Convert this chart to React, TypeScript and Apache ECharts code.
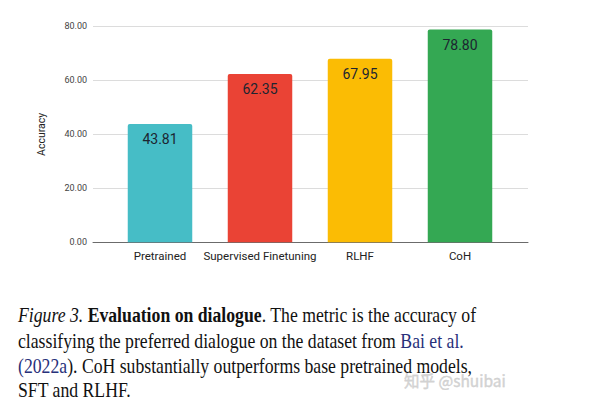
import React, { useEffect, useRef } from "react";
import * as echarts from "echarts";

const categories = ["Pretrained", "Supervised Finetuning", "RLHF", "CoH"];
const accuracy = [43.81, 62.35, 67.95, 78.8];
const barColors = ["#46bdc6", "#ea4335", "#fbbc04", "#34a853"];
const yTicks = [0, 20, 40, 60, 80];
const axisName = "Accuracy";

const captionLines = [
  "{i|Figure 3.} {b|Evaluation on dialogue}{r|. The metric is the accuracy of}",
  "{r|classifying the preferred dialogue on the dataset from }{l|Bai et al.}",
  "{l|(2022a}{r|). CoH substantially outperforms base pretrained models,}",
  "{r|SFT and RLHF.}",
];
const watermark = "知乎 @shuibai";

export default function App() {
  const ref = useRef<HTMLDivElement>(null);
  useEffect(() => {
    const chart = echarts.init(ref.current!, null, { renderer: "svg" });
    const font = "Roboto, 'Liberation Sans', Arial, sans-serif";
    const serif = "'Liberation Serif', 'Times New Roman', serif";
    const top = 26.3;
    const height = 216;
    const fs = 20;
    const rich = {
      i: { fontFamily: serif, fontStyle: "italic", fontSize: fs, fill: "#111" },
      b: { fontFamily: serif, fontWeight: "bold", fontSize: fs, fill: "#111" },
      r: { fontFamily: serif, fontSize: fs, fill: "#111" },
      l: { fontFamily: serif, fontSize: fs, fill: "#27307a" },
    };
    const lineY = [315, 341, 366, 390];
    chart.setOption({
      animation: false,
      grid: [
        { left: 93, width: 435, top, height, containLabel: false },
        { left: 110, width: 400, top, height, containLabel: false },
      ],
      xAxis: [
        {
          gridIndex: 0,
          type: "value",
          min: 0,
          max: 1,
          axisLine: { show: true, lineStyle: { color: "#6b6b6b", width: 1 } },
          axisTick: { show: false },
          axisLabel: { show: false },
          splitLine: { show: false },
        },
        {
          gridIndex: 1,
          type: "category",
          data: categories,
          axisLine: { show: false },
          axisTick: { show: false },
          axisLabel: {
            show: true,
            interval: 0,
            fontFamily: font,
            fontSize: 11.5,
            color: "#222",
            margin: 8,
          },
        },
      ],
      yAxis: [
        {
          gridIndex: 0,
          type: "value",
          min: yTicks[0],
          max: yTicks[yTicks.length - 1],
          interval: yTicks[1] - yTicks[0],
          name: axisName,
          nameLocation: "middle",
          nameRotate: 90,
          nameGap: 46,
          nameTextStyle: { fontFamily: font, fontSize: 10.5, color: "#222" },
          axisLine: { show: false },
          axisTick: { show: false },
          axisLabel: {
            fontFamily: font,
            fontSize: 9,
            color: "#444",
            margin: 6,
            formatter: (v: number) => v.toFixed(2),
          },
          splitLine: { show: true, lineStyle: { color: "#dcdcdc", width: 1 } },
        },
        {
          gridIndex: 1,
          type: "value",
          min: yTicks[0],
          max: yTicks[yTicks.length - 1],
          show: false,
          splitLine: { show: false },
        },
      ],
      series: [
        {
          type: "bar",
          xAxisIndex: 1,
          yAxisIndex: 1,
          barWidth: 64.5,
          data: accuracy.map((v, i) => ({
            value: v,
            itemStyle: { color: barColors[i], borderRadius: [2, 2, 0, 0] },
          })),
          label: {
            show: true,
            position: "insideTop",
            distance: 8,
            fontFamily: font,
            fontSize: 14,
            color: "#1c2530",
            formatter: (p: any) => Number(p.value).toFixed(2),
          },
        },
      ],
      graphic: [
        ...captionLines.map((t, k) => ({
          type: "text",
          x: 18,
          y: lineY[k],
          scaleX: 0.885,
          style: {
            text: t,
            rich,
            fontFamily: serif,
            fontSize: fs,
            fill: "#111",
            verticalAlign: "middle",
          },
        })),
        {
          type: "text",
          x: 404,
          y: 380,
          style: {
            text: watermark,
            fontFamily: "'Noto Sans CJK SC', sans-serif",
            fontSize: 15.5,
            fill: "#d2d2d2",
            stroke: "#bdbdbd",
            lineWidth: 0.3,
            verticalAlign: "middle",
          },
        },
      ],
    });
    return () => chart.dispose();
  }, []);
  return (
    <div
      ref={ref}
      style={{ position: "fixed", left: 0, top: 0, width: 600, height: 403, background: "#fff" }}
    />
  );
}
